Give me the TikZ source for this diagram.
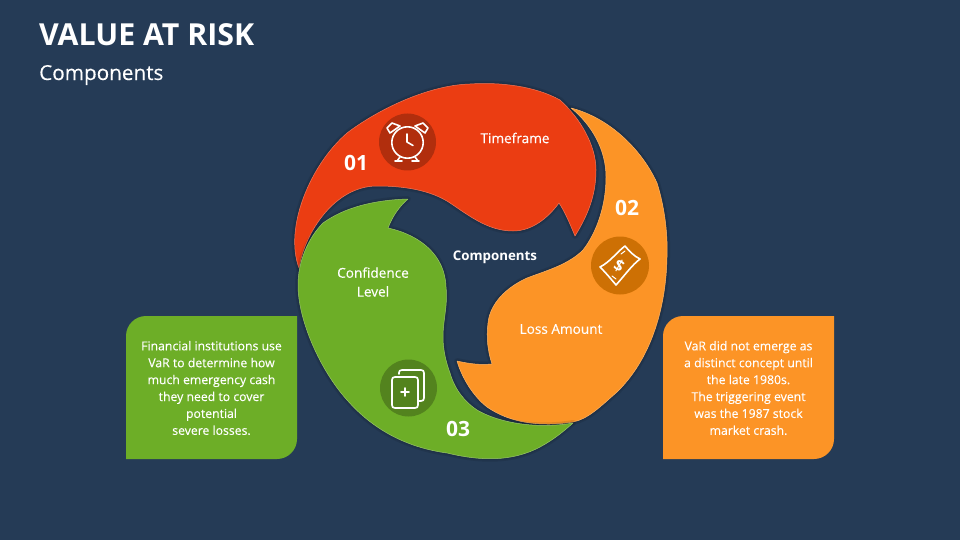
\documentclass[tikz,border=0pt]{standalone}
\usepackage{fontspec}
\setmainfont{Open Sans}
\newfontfamily\semi[FakeBold=0.25]{Open Sans}
\definecolor{bg}{HTML}{253B56}
\definecolor{redc}{HTML}{EB3D12}
\definecolor{redd}{HTML}{B12E0D}
\definecolor{orac}{HTML}{FC9426}
\definecolor{orad}{HTML}{CD7004}
\definecolor{grec}{HTML}{6DAE27}
\definecolor{gred}{HTML}{53831E}
\tikzset{
  lab/.style={text=white,align=center,font=\semi\fontsize{13.6}{18.8}\selectfont},
  num/.style={text=white,font=\fontsize{21}{24}\selectfont\bfseries},
  body/.style={text=white,align=center,font=\semi\fontsize{12.25}{16.9}\selectfont},
  ico/.style={draw=white,line width=1.6pt,line join=round,line cap=round},
  shade1/.style={draw=black,opacity=.09,line join=round}
}
\newcommand{\redpath}{(299,268) .. controls (284,228) and (310,165) .. (347,133)
 .. controls (380,108) and (430,85) .. (470,84)
 .. controls (500,82) and (535,86) .. (560,100)
 .. controls (580,118) and (596,145) .. (596,170)
 .. controls (596,195) and (588,215) .. (575,236)
 .. controls (570,224) and (565,212) .. (559,203)
 .. controls (548,218) and (532,231) .. (513,231)
 .. controls (490,231) and (472,218) .. (453,205)
 .. controls (435,192) and (410,186) .. (377,186)
 .. controls (335,186) and (305,232) .. (299,268) -- cycle}
\newcommand{\orapath}{(571,108) .. controls (610,118) and (642,150) .. (657,183)
 .. controls (664,205) and (668,232) .. (667,257)
 .. controls (666,310) and (650,360) .. (617,392)
 .. controls (600,407) and (588,419) .. (573,422)
 .. controls (540,427) and (510,423) .. (487,407)
 .. controls (473,396) and (462,378) .. (457,361)
 .. controls (470,364) and (480,365) .. (492,364)
 .. controls (488,352) and (486,338) .. (488,323)
 .. controls (490,303) and (507,287) .. (527,278)
 .. controls (545,271) and (568,265) .. (583,250)
 .. controls (597,232) and (606,205) .. (606,177)
 .. controls (606,150) and (592,125) .. (571,108) -- cycle}
\newcommand{\grepath}{(408,199) .. controls (375,200) and (345,207) .. (323,223)
 .. controls (308,238) and (298,262) .. (298,285)
 .. controls (298,320) and (320,370) .. (347,400)
 .. controls (375,432) and (410,448) .. (447,453)
 .. controls (480,461) and (512,462) .. (540,447)
 .. controls (553,440) and (563,432) .. (573,423)
 .. controls (545,428) and (505,426) .. (477,410)
 .. controls (465,402) and (455,390) .. (450,373)
 .. controls (446,362) and (443,350) .. (443,337)
 .. controls (443,320) and (448,305) .. (446,287)
 .. controls (445,255) and (420,235) .. (388,228)
 .. controls (393,215) and (400,206) .. (408,199) -- cycle}
\begin{document}
\begin{tikzpicture}[x=1pt,y=-1pt]
\useasboundingbox (0,0) rectangle (960,540);
\fill[bg] (0,0) rectangle (960,540);
\node[anchor=west,text=white,font=\fontsize{30.3}{36}\selectfont\bfseries,inner sep=0pt] (title) at (39,35) {VALUE AT RISK};
\node[anchor=west,text=white,font=\semi\fontsize{20.7}{24}\selectfont,inner sep=0pt] (sub) at (39,75) {Components};
% shapes
\foreach \w in {6,3}{\draw[shade1,line width=\w pt] \redpath;}
\fill[redc] \redpath; \draw[redc!70!white,line width=.5pt,line join=round] \redpath;
\foreach \w in {6,3}{\draw[shade1,line width=\w pt] \orapath;}
\fill[orac] \orapath; \draw[orac!70!white,line width=.5pt,line join=round] \orapath;
\foreach \w in {6,3}{\draw[shade1,line width=\w pt] \grepath;}
\fill[grec] \grepath; \draw[grec!70!white,line width=.5pt,line join=round] \grepath;
% labels
\node[num] (n1) at (356,163) {01};
\node[num] (n2) at (627,208) {02};
\node[num] (n3) at (458,429) {03};
\node[lab] (t1) at (515,138) {Timeframe};
\node[lab] (t2) at (561,329) {Loss Amount};
\node[lab] (t3) at (373,282) {Confidence\\Level};
\node[text=white,font=\fontsize{13.3}{16}\selectfont\bfseries] (c) at (495,257) {Components};
% clock icon
\fill[redd] (407.5,142) circle (28.5);
\begin{scope}[ico]
\draw (407.5,142.5) circle (15.7);
\draw (407,134) -- (407,142) -- (413,145.5);
\draw (400,157) -- (397,161) (415,157) -- (418,161) (395,161) -- (402,161) (412,161) -- (419,161);
\draw (392,123) -- (400,126) -- (390,133) -- (387,128) -- cycle;
\draw (423,123) -- (415,126) -- (425,133) -- (428,128) -- cycle;
\end{scope}
% money icon
\fill[orad] (620,265.5) circle (29);
\begin{scope}[ico]
\draw (600,267) .. controls (610,262) and (617,252) .. (625,246) .. controls (630,252) and (634,256) .. (640,259) .. controls (632,265) and (625,275) .. (616,285) .. controls (611,279) and (606,273) .. (600,267) -- cycle;
\draw[line width=1pt] (621,254) -- (625,251) (612,276) -- (616,279);
\end{scope}
\node[text=white,font=\fontsize{16}{18}\selectfont\bfseries,rotate=-30,inner sep=0pt] (dollar) at (619,266) {\$};
% cards icon
\fill[gred] (408.5,388) circle (28.5);
\begin{scope}[ico]
\draw (399,374) -- (399,372.5) .. controls (399,371) and (400,370) .. (402,370) -- (421,370) .. controls (423,370) and (424,371) .. (424,373) -- (424,398) .. controls (424,400) and (423,401) .. (421,401) -- (418,401);
\draw (395,377) -- (415,377) .. controls (417,377) and (418,378) .. (418,380) -- (418,405) .. controls (418,407) and (417,408) .. (415,408) -- (395,408) .. controls (393,408) and (392,407) .. (392,405) -- (392,380) .. controls (392,378) and (393,377) .. (395,377) -- cycle;
\draw (405,388) -- (405,396) (401,392) -- (409,392);
\end{scope}
% boxes
\fill[grec] (146,316) -- (297,316) -- (297,439) arc[start angle=0,end angle=90,radius=20] -- (126,459) -- (126,336) arc[start angle=180,end angle=270,radius=20] -- cycle;
\fill[orac] (683,316) -- (834,316) -- (834,439) arc[start angle=0,end angle=90,radius=20] -- (663,459) -- (663,336) arc[start angle=180,end angle=270,radius=20] -- cycle;
\node[body] (b1) at (211.5,388) {Financial institutions use\\VaR to determine how\\much emergency cash\\they need to cover\\potential\\severe losses.};
\node[body] (b2) at (748.5,388) {VaR did not emerge as\\a distinct concept until\\the late 1980s.\\The triggering event\\was the 1987 stock\\market crash.};
\end{tikzpicture}
\end{document}
